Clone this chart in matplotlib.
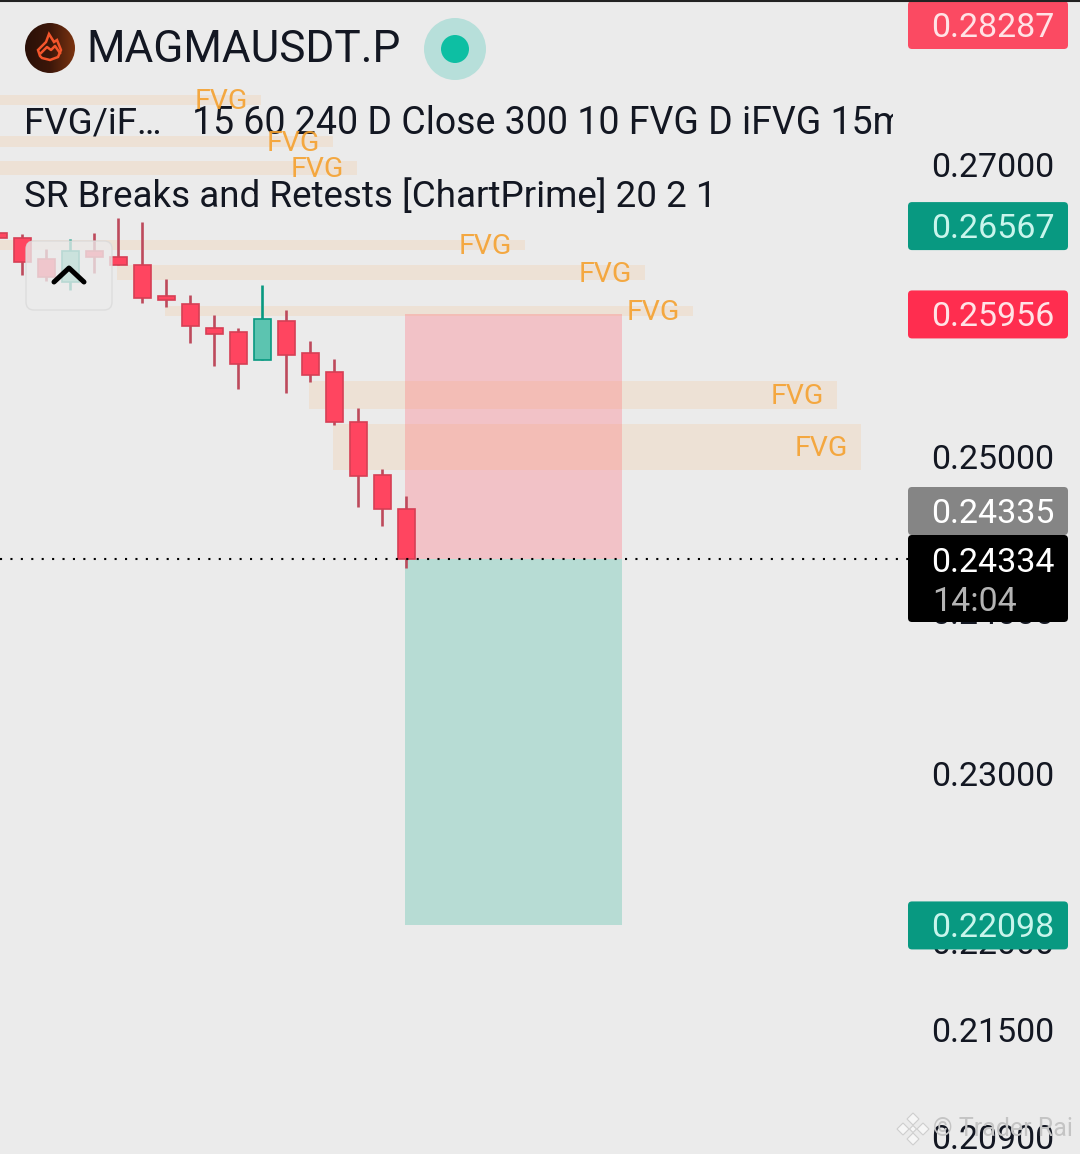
import matplotlib
matplotlib.use('Agg')
import matplotlib.pyplot as plt
import numpy as np
from matplotlib.patches import FancyBboxPatch, Circle, Polygon
from matplotlib.lines import Line2D
from matplotlib.transforms import IdentityTransform, Bbox, blended_transform_factory

W, H = 1080, 1154
BG = '#ebebeb'
plt.rcParams['font.family'] = ['Roboto', 'DejaVu Sans']

# candles, oldest first
opens = [0.26519, 0.26484, 0.26338, 0.26179, 0.26394, 0.26352, 0.26297, 0.26083, 0.26028, 0.25864,
         0.25837, 0.25647, 0.25912, 0.25694, 0.25566, 0.25231, 0.24882, 0.24660]
closes = [0.26484, 0.26317, 0.26214, 0.26394, 0.26352, 0.26297, 0.26069, 0.26055, 0.25878, 0.25823,
          0.25620, 0.25925, 0.25681, 0.25546, 0.25231, 0.24875, 0.24660, 0.24334]
highs = [0.26519, 0.26512, 0.26408, 0.26477, 0.26519, 0.26624, 0.26596, 0.26200, 0.26090, 0.25953,
         0.25864, 0.26159, 0.25987, 0.25775, 0.25654, 0.25325, 0.24921, 0.24745]
lows = [0.26484, 0.26227, 0.26186, 0.26124, 0.26241, 0.26297, 0.26035, 0.26007, 0.25762, 0.25606,
        0.25452, 0.25647, 0.25425, 0.25499, 0.25212, 0.24673, 0.24550, 0.24280]

# fair value gap zones
fvg_start = [0, 0, 0, 0, 5, 7, 13, 14]
fvg_end = [11, 14, 15, 22, 27, 29, 35, 36]
fvg_top = [0.27501, 0.27205, 0.27027, 0.26470, 0.26297, 0.26014, 0.25506, 0.25218]
fvg_bottom = [0.27428, 0.27127, 0.26928, 0.26401, 0.26193, 0.25946, 0.25318, 0.24915]

# long/short position box
box_start, box_end = 16.99, 26.03
entry_price = 0.24334
stop_price = 0.25956
target_price = 0.22098

axis_ticks = ['0.27000', '0.25000', '0.24000', '0.23000', '0.22000', '0.21500', '0.20900']
price_tags = [('0.28287', 0.28287, '#fb4a62', '#ffe3e6'),
              ('0.26567', 0.26567, '#089981', '#c9f5ec'),
              ('0.25956', 0.25956, '#ff2d4f', '#ffe3e6'),
              ('0.24335', 0.24335, '#858585', '#ffffff'),
              ('0.22098', 0.22098, '#089981', '#c9f5ec')]

fig = plt.figure(figsize=(W / 100, H / 100), dpi=100, facecolor=BG)
ax = fig.add_axes([0, 0, 1, 1], facecolor=BG)
ax.set_yscale('log')
ax.set_xlim(2.6 / 24, (W + 2.6) / 24)
ax.set_ylim(0.20807, 0.28197)
ax.set_autoscale_on(False)
ax.axis('off')
pix = IdentityTransform()


def ptext(x, y, s, **kw):
    return ax.text(x, H - y, s, transform=pix, **kw)


def rbox(x0, y0, x1, y1, color, z, edge='none', alpha=1.0, r=5):
    p = FancyBboxPatch((x0 + r, H - y1 + r), x1 - x0 - 2 * r, y1 - y0 - 2 * r,
                       boxstyle='round,pad=%d' % r, transform=pix, fc=color, ec=edge,
                       alpha=alpha, zorder=z, clip_on=False)
    ax.add_patch(p)


# position box
ax.fill_between([box_start, box_end], entry_price, stop_price, color='#f2c2c7', lw=0, zorder=1)
ax.fill_between([box_start, box_end], target_price, entry_price, color='#b7dcd4', lw=0, zorder=1)

# fvg zones
for i in range(len(fvg_start)):
    ax.fill_between([fvg_start[i], fvg_end[i]], fvg_bottom[i], fvg_top[i],
                    color='#ff9a3c', alpha=0.12, lw=0, zorder=2)

# candles
for i in range(len(opens)):
    up = closes[i] >= opens[i]
    fill = '#5cc4b0' if up else '#ff4560'
    edge = '#089981' if up else '#d63f55'
    wick = '#089981' if up else '#bd4a5c'
    ax.vlines(i + 0.04, lows[i], highs[i], color=wick, lw=1.9, zorder=3)
    ax.bar(i + 0.04, abs(closes[i] - opens[i]), bottom=min(opens[i], closes[i]), width=0.7,
           color=fill, edgecolor=edge, linewidth=1.2, zorder=4)

# last price line
ax.plot([0, 908 / W], [entry_price, entry_price], color='black', lw=1.5, ls=(0, (1, 4)), zorder=5,
        transform=blended_transform_factory(fig.transFigure, ax.transData), clip_on=False)

# legend texts
ptext(86, 50, 'MAGMAUSDT.P', fontsize=31.8, color='#131722', va='center', zorder=6)
ptext(24, 124, 'FVG/iF…', fontsize=26.5, color='#131722', va='center', zorder=6)
t = ptext(192, 124, '15 60 240 D Close 300 10 FVG D iFVG 15m', fontsize=27, color='#131722',
          va='center', zorder=6)
t.set_clip_box(Bbox([[0, 0], [893, H]]))
t.set_clip_on(True)
ptext(24, 197, 'SR Breaks and Retests [ChartPrime] 20 2 1', fontsize=26.5, color='#131722',
      va='center', zorder=6)

# fvg labels
for i in range(len(fvg_start)):
    lab_y = ax.transData.transform((0, (fvg_top[i] * fvg_bottom[i]) ** 0.5))[1]
    ax.text(ax.transData.transform((fvg_end[i] - 1.65, 0.25))[0], lab_y - 2, 'FVG', transform=pix,
            color='#f5a12f', alpha=0.9, fontsize=20.5, ha='center', va='center', zorder=7)

# symbol logo and status dot
logo = Circle((50, H - 48), 25, fc='none', ec='none', transform=pix, zorder=6)
ax.add_patch(logo)
grad = np.linspace(0, 1, 64).reshape(1, -1)
im = ax.imshow(grad, extent=(25, 75, H - 73, H - 23), cmap=plt.matplotlib.colors.LinearSegmentedColormap.from_list(
    'logo', ['#2a1008', '#3c170a', '#7a3310']), aspect='auto', transform=pix, zorder=6)
im.set_clip_path(logo)
ax.set_xlim(2.6 / 24, (W + 2.6) / 24)
ax.set_ylim(0.20807, 0.28197)
flame = [(40, 56), (38, 50), (46, 42), (49, 34), (54, 42), (57, 40), (61, 50), (58, 57), (50, 60), (42, 58)]
ax.add_patch(Polygon([(x, H - y) for x, y in flame], closed=True, fc='none', ec='#f4552b', lw=1.8,
                     transform=pix, zorder=7))
ax.add_line(Line2D([41, 47, 51, 55, 60], [H - 53, H - 47, H - 50, H - 46, H - 53], color='#f4552b',
                   lw=1.8, transform=pix, zorder=7))
ax.add_patch(Circle((455, H - 49), 31, fc='#b7dfda', ec='none', transform=pix, zorder=6))
ax.add_patch(Circle((455, H - 49), 14, fc='#0dbfa3', ec='none', transform=pix, zorder=7))

# collapse button over the first candles
rbox(26, 241, 112, 310, BG, 8, edge='#d9d9d9', alpha=0.78, r=8)
ax.add_line(Line2D([54, 69, 84], [H - 282, H - 268, H - 282], color='black', lw=3.6,
                   solid_capstyle='round', solid_joinstyle='round', transform=pix, zorder=9))

# price axis
for lab in axis_ticks:
    y = ax.transData.transform((0, float(lab)))[1]
    ax.text(931, y - 3, lab, transform=pix, fontsize=24.5, color='#131722', va='center', zorder=10)

for lab, price, col, tcol in price_tags:
    yc = H - ax.transData.transform((0, price))[1]
    if price == 0.24335:
        yc = 511  # pushed up by the last price tag
    yc = max(yc, 25)
    rbox(908, yc - 24, 1068, yc + 24, col, 11, r=4)
    ptext(931, yc + 3, lab, fontsize=24.5, color=tcol, va='center', zorder=12)

rbox(908, 535, 1068, 622, 'black', 13, r=4)
ptext(931, 563, '0.24334', fontsize=24.5, color='white', va='center', zorder=14)
ptext(932, 602, '14:04', fontsize=24.5, color='#b4b4b4', va='center', zorder=14)

# watermark and top edge
for cx, cy, r in [(913, 1119, 6), (903, 1129, 6), (923, 1129, 6), (913, 1139, 6), (913, 1129, 3.5)]:
    ax.add_patch(Polygon([(cx, H - cy + r), (cx + r, H - cy), (cx, H - cy - r), (cx - r, H - cy)], closed=True,
                         fc='#f7f7f7', ec='#cccccc', lw=0.8, alpha=0.95, transform=pix, zorder=15))
ptext(933, 1129, '© Trader Rai', fontsize=18, color='#c4c4c4', va='center', zorder=15)
ax.add_line(Line2D([0, W], [H - 0.5, H - 0.5], color='#222222', lw=1.5, transform=pix, zorder=15))

fig.savefig('out.png', dpi=100, facecolor=BG)
